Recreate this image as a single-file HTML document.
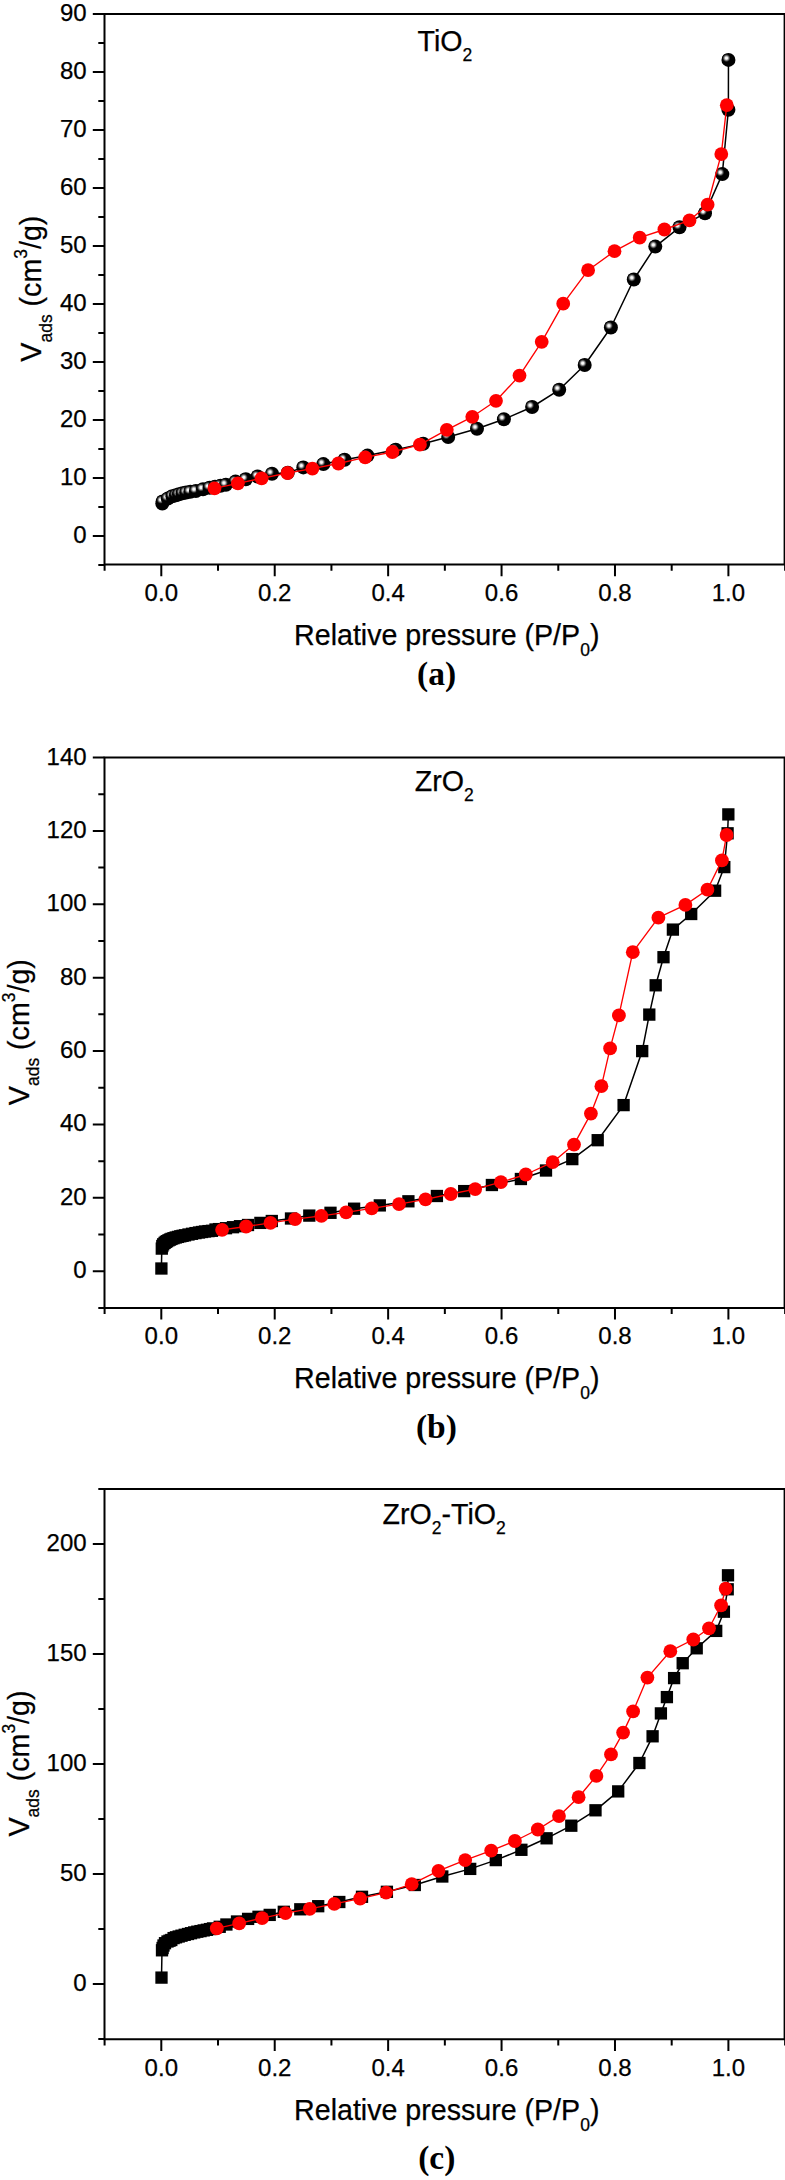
<!DOCTYPE html>
<html lang="en"><head><meta charset="utf-8"><title>N2 adsorption-desorption isotherms</title>
<style>html,body{margin:0;padding:0;background:#fff}svg{display:block}text{font-family:"Liberation Sans", Arial, sans-serif;fill:#000;stroke:#000;stroke-width:0.25px}.cap{font-family:"Liberation Serif", "Times New Roman", serif;font-weight:bold;stroke:none}</style></head><body>
<svg width="785" height="2180" viewBox="0 0 785 2180">
<defs><radialGradient id="hl" cx="0.5" cy="0.5" r="0.5"><stop offset="0" stop-color="#fff"/><stop offset="0.28" stop-color="#f0f0f0"/><stop offset="0.55" stop-color="#8a8a8a"/><stop offset="0.8" stop-color="#2a2a2a"/><stop offset="1" stop-color="#000"/></radialGradient><g id="ball"><circle r="7" fill="#000"/><circle cx="-2" cy="-1.8" r="4.1" fill="url(#hl)"/></g></defs>
<rect width="785" height="2180" fill="#fff"/>
<g id="chart-a">
<g stroke="#000" stroke-width="2" fill="none" stroke-linecap="butt">
<path d="M103.5 14 H785.6 M103.5 564.5 H785.6 M104.5 14 V564.5 M784.6 14 V564.5"/>
<path d="M92.8 536H104.5M92.8 478H104.5M92.8 420H104.5M92.8 362H104.5M92.8 304H104.5M92.8 246H104.5M92.8 188H104.5M92.8 130H104.5M92.8 72H104.5M92.8 14H104.5M98.3 565H104.5M98.3 507H104.5M98.3 449H104.5M98.3 391H104.5M98.3 333H104.5M98.3 275H104.5M98.3 217H104.5M98.3 159H104.5M98.3 101H104.5M98.3 43H104.5M104.59 564.5V570.7M161.3 564.5V576.2M218.01 564.5V570.7M274.72 564.5V576.2M331.43 564.5V570.7M388.14 564.5V576.2M444.85 564.5V570.7M501.56 564.5V576.2M558.27 564.5V570.7M614.98 564.5V576.2M671.69 564.5V570.7M728.4 564.5V576.2M785.11 564.5V570.7"/>
</g>
<g font-size="24">
<text x="86.6" y="543" text-anchor="end">0</text>
<text x="86.6" y="485" text-anchor="end">10</text>
<text x="86.6" y="427" text-anchor="end">20</text>
<text x="86.6" y="369" text-anchor="end">30</text>
<text x="86.6" y="311" text-anchor="end">40</text>
<text x="86.6" y="253" text-anchor="end">50</text>
<text x="86.6" y="195" text-anchor="end">60</text>
<text x="86.6" y="137" text-anchor="end">70</text>
<text x="86.6" y="79" text-anchor="end">80</text>
<text x="86.6" y="21" text-anchor="end">90</text>
<text x="161.3" y="600.8" text-anchor="middle">0.0</text>
<text x="274.72" y="600.8" text-anchor="middle">0.2</text>
<text x="388.14" y="600.8" text-anchor="middle">0.4</text>
<text x="501.56" y="600.8" text-anchor="middle">0.6</text>
<text x="614.98" y="600.8" text-anchor="middle">0.8</text>
<text x="728.4" y="600.8" text-anchor="middle">1.0</text>
</g>
<text x="446.75" y="645" font-size="28.6" text-anchor="middle">Relative pressure (P/P<tspan font-size="17.5" dy="11">0</tspan><tspan dy="-11">)</tspan></text>
<text transform="translate(41.3 288.65) rotate(-90)" font-size="28.6" text-anchor="middle">V<tspan font-size="17.5" dy="10.5">ads</tspan><tspan dy="-10.5"> (cm</tspan><tspan font-size="17.5" dy="-14">3</tspan><tspan dy="14">/g)</tspan></text>
<text x="417.6" y="51.2" font-size="28.6">TiO<tspan font-size="17.5" dy="10">2</tspan></text>
<text class="cap" x="436.65" y="685.2" font-size="33.5" text-anchor="middle">(a)</text>
<polyline fill="none" stroke="#000" stroke-width="1.5" stroke-linejoin="round" points="162.3,503.6 162.7,501.5 167.8,498.6 172.4,496.2 176,495.2 179,494.3 182.6,493.3 186.2,492.5 190.3,491.8 195.9,491 203,489.3 209.6,487.7 215,486.7 220.5,485.7 225.9,484.7 235.5,481.6 245.8,479.2 257.7,476.5 272,473.8 287.8,472.8 303.3,467.4 323.4,464.1 344.6,459.7 367.5,455.6 395.7,449.7 423.2,443.7 448.2,437 477,428.7 503.9,419.3 532.1,407 559.2,389.8 584.7,365 610.9,327.5 633.8,279.5 655.3,246.6 679.5,227.3 705,213.3 722.3,174.1 728.4,109.7 728.45,59.9"/>
<use href="#ball" x="162.3" y="503.6"/><use href="#ball" x="162.7" y="501.5"/><use href="#ball" x="167.8" y="498.6"/><use href="#ball" x="172.4" y="496.2"/><use href="#ball" x="176" y="495.2"/><use href="#ball" x="179" y="494.3"/><use href="#ball" x="182.6" y="493.3"/><use href="#ball" x="186.2" y="492.5"/><use href="#ball" x="190.3" y="491.8"/><use href="#ball" x="195.9" y="491"/><use href="#ball" x="203" y="489.3"/><use href="#ball" x="209.6" y="487.7"/><use href="#ball" x="215" y="486.7"/><use href="#ball" x="220.5" y="485.7"/><use href="#ball" x="225.9" y="484.7"/><use href="#ball" x="235.5" y="481.6"/><use href="#ball" x="245.8" y="479.2"/><use href="#ball" x="257.7" y="476.5"/><use href="#ball" x="272" y="473.8"/><use href="#ball" x="287.8" y="472.8"/><use href="#ball" x="303.3" y="467.4"/><use href="#ball" x="323.4" y="464.1"/><use href="#ball" x="344.6" y="459.7"/><use href="#ball" x="367.5" y="455.6"/><use href="#ball" x="395.7" y="449.7"/><use href="#ball" x="423.2" y="443.7"/><use href="#ball" x="448.2" y="437"/><use href="#ball" x="477" y="428.7"/><use href="#ball" x="503.9" y="419.3"/><use href="#ball" x="532.1" y="407"/><use href="#ball" x="559.2" y="389.8"/><use href="#ball" x="584.7" y="365"/><use href="#ball" x="610.9" y="327.5"/><use href="#ball" x="633.8" y="279.5"/><use href="#ball" x="655.3" y="246.6"/><use href="#ball" x="679.5" y="227.3"/><use href="#ball" x="705" y="213.3"/><use href="#ball" x="722.3" y="174.1"/><use href="#ball" x="728.4" y="109.7"/><use href="#ball" x="728.45" y="59.9"/>
<polyline fill="none" stroke="#f00" stroke-width="1.35" stroke-linejoin="round" points="214.5,488.4 237.9,483.3 261.6,478.3 287.5,473 312.4,468.6 338.4,463.5 365.2,457.3 392.4,452 419.9,444.7 446.8,429.8 472.3,416.8 496,400.8 519.5,375.6 541.7,341.8 563.2,303.7 588.1,270.2 614.5,251.2 639.7,237.7 664.4,229.5 689.5,220.4 707.6,204.7 721.3,154.1 726.8,105.2"/>
<g fill="#f00"><circle cx="214.5" cy="488.4" r="6.9"/><circle cx="237.9" cy="483.3" r="6.9"/><circle cx="261.6" cy="478.3" r="6.9"/><circle cx="287.5" cy="473" r="6.9"/><circle cx="312.4" cy="468.6" r="6.9"/><circle cx="338.4" cy="463.5" r="6.9"/><circle cx="365.2" cy="457.3" r="6.9"/><circle cx="392.4" cy="452" r="6.9"/><circle cx="419.9" cy="444.7" r="6.9"/><circle cx="446.8" cy="429.8" r="6.9"/><circle cx="472.3" cy="416.8" r="6.9"/><circle cx="496" cy="400.8" r="6.9"/><circle cx="519.5" cy="375.6" r="6.9"/><circle cx="541.7" cy="341.8" r="6.9"/><circle cx="563.2" cy="303.7" r="6.9"/><circle cx="588.1" cy="270.2" r="6.9"/><circle cx="614.5" cy="251.2" r="6.9"/><circle cx="639.7" cy="237.7" r="6.9"/><circle cx="664.4" cy="229.5" r="6.9"/><circle cx="689.5" cy="220.4" r="6.9"/><circle cx="707.6" cy="204.7" r="6.9"/><circle cx="721.3" cy="154.1" r="6.9"/><circle cx="726.8" cy="105.2" r="6.9"/></g>
</g>
<g id="chart-b">
<g stroke="#000" stroke-width="2" fill="none" stroke-linecap="butt">
<path d="M103.5 757.6 H785.6 M103.5 1307.9 H785.6 M104.5 757.6 V1307.9 M784.6 757.6 V1307.9"/>
<path d="M92.8 1271.2H104.5M92.8 1197.82H104.5M92.8 1124.44H104.5M92.8 1051.06H104.5M92.8 977.68H104.5M92.8 904.3H104.5M92.8 830.92H104.5M92.8 757.54H104.5M98.3 1307.89H104.5M98.3 1234.51H104.5M98.3 1161.13H104.5M98.3 1087.75H104.5M98.3 1014.37H104.5M98.3 940.99H104.5M98.3 867.61H104.5M98.3 794.23H104.5M104.59 1307.9V1314.1M161.3 1307.9V1319.6M218.01 1307.9V1314.1M274.72 1307.9V1319.6M331.43 1307.9V1314.1M388.14 1307.9V1319.6M444.85 1307.9V1314.1M501.56 1307.9V1319.6M558.27 1307.9V1314.1M614.98 1307.9V1319.6M671.69 1307.9V1314.1M728.4 1307.9V1319.6M785.11 1307.9V1314.1"/>
</g>
<g font-size="24">
<text x="86.6" y="1278.2" text-anchor="end">0</text>
<text x="86.6" y="1204.82" text-anchor="end">20</text>
<text x="86.6" y="1131.44" text-anchor="end">40</text>
<text x="86.6" y="1058.06" text-anchor="end">60</text>
<text x="86.6" y="984.68" text-anchor="end">80</text>
<text x="86.6" y="911.3" text-anchor="end">100</text>
<text x="86.6" y="837.92" text-anchor="end">120</text>
<text x="86.6" y="764.54" text-anchor="end">140</text>
<text x="161.3" y="1344.2" text-anchor="middle">0.0</text>
<text x="274.72" y="1344.2" text-anchor="middle">0.2</text>
<text x="388.14" y="1344.2" text-anchor="middle">0.4</text>
<text x="501.56" y="1344.2" text-anchor="middle">0.6</text>
<text x="614.98" y="1344.2" text-anchor="middle">0.8</text>
<text x="728.4" y="1344.2" text-anchor="middle">1.0</text>
</g>
<text x="446.75" y="1388.4" font-size="28.6" text-anchor="middle">Relative pressure (P/P<tspan font-size="17.5" dy="11">0</tspan><tspan dy="-11">)</tspan></text>
<text transform="translate(28.5 1032.15) rotate(-90)" font-size="28.6" text-anchor="middle">V<tspan font-size="17.5" dy="10.5">ads</tspan><tspan dy="-10.5"> (cm</tspan><tspan font-size="17.5" dy="-14">3</tspan><tspan dy="14">/g)</tspan></text>
<text x="414.8" y="791" font-size="28.6">ZrO<tspan font-size="17.5" dy="10">2</tspan></text>
<text class="cap" x="436.4" y="1438.1" font-size="33.5" text-anchor="middle">(b)</text>
<polyline fill="none" stroke="#000" stroke-width="1.5" stroke-linejoin="round" points="161.4,1268.5 161.8,1248.6 162.3,1246 163.2,1244.3 164.6,1242.9 165.8,1241.9 167,1241.2 168.5,1240.3 170,1239.6 171.5,1238.9 173.5,1238.2 175.7,1237.5 178,1236.9 180.3,1236.3 182.6,1235.8 185,1235.3 188.5,1234.5 192,1233.8 195.5,1233.1 199,1232.5 202,1232 205,1231.5 208.5,1231.1 212,1230.8 215.5,1229.5 219,1229.1 226,1228.2 233,1227.2 240,1226.2 248,1225 260.4,1222.9 271.8,1221 291,1218.5 309.3,1215.6 330.5,1212.8 354.1,1208.7 379.8,1205.4 408.4,1201.3 436.9,1196 464.2,1191.1 491.9,1185 520.9,1179 546,1170.5 572.3,1159.1 597.7,1140.2 623.6,1105.1 642.2,1051.1 649.3,1014.6 655.7,985.3 663.5,957.2 672.9,929.6 691.2,914 715.1,890.7 724.3,867.1 727.6,833.3 728.35,814.4"/>
<g fill="#000"><rect x="155.25" y="1262.35" width="12.3" height="12.3"/><rect x="155.65" y="1242.45" width="12.3" height="12.3"/><rect x="156.15" y="1239.85" width="12.3" height="12.3"/><rect x="157.05" y="1238.15" width="12.3" height="12.3"/><rect x="158.45" y="1236.75" width="12.3" height="12.3"/><rect x="159.65" y="1235.75" width="12.3" height="12.3"/><rect x="160.85" y="1235.05" width="12.3" height="12.3"/><rect x="162.35" y="1234.15" width="12.3" height="12.3"/><rect x="163.85" y="1233.45" width="12.3" height="12.3"/><rect x="165.35" y="1232.75" width="12.3" height="12.3"/><rect x="167.35" y="1232.05" width="12.3" height="12.3"/><rect x="169.55" y="1231.35" width="12.3" height="12.3"/><rect x="171.85" y="1230.75" width="12.3" height="12.3"/><rect x="174.15" y="1230.15" width="12.3" height="12.3"/><rect x="176.45" y="1229.65" width="12.3" height="12.3"/><rect x="178.85" y="1229.15" width="12.3" height="12.3"/><rect x="182.35" y="1228.35" width="12.3" height="12.3"/><rect x="185.85" y="1227.65" width="12.3" height="12.3"/><rect x="189.35" y="1226.95" width="12.3" height="12.3"/><rect x="192.85" y="1226.35" width="12.3" height="12.3"/><rect x="195.85" y="1225.85" width="12.3" height="12.3"/><rect x="198.85" y="1225.35" width="12.3" height="12.3"/><rect x="202.35" y="1224.95" width="12.3" height="12.3"/><rect x="205.85" y="1224.65" width="12.3" height="12.3"/><rect x="209.35" y="1223.35" width="12.3" height="12.3"/><rect x="212.85" y="1222.95" width="12.3" height="12.3"/><rect x="219.85" y="1222.05" width="12.3" height="12.3"/><rect x="226.85" y="1221.05" width="12.3" height="12.3"/><rect x="233.85" y="1220.05" width="12.3" height="12.3"/><rect x="241.85" y="1218.85" width="12.3" height="12.3"/><rect x="254.25" y="1216.75" width="12.3" height="12.3"/><rect x="265.65" y="1214.85" width="12.3" height="12.3"/><rect x="284.85" y="1212.35" width="12.3" height="12.3"/><rect x="303.15" y="1209.45" width="12.3" height="12.3"/><rect x="324.35" y="1206.65" width="12.3" height="12.3"/><rect x="347.95" y="1202.55" width="12.3" height="12.3"/><rect x="373.65" y="1199.25" width="12.3" height="12.3"/><rect x="402.25" y="1195.15" width="12.3" height="12.3"/><rect x="430.75" y="1189.85" width="12.3" height="12.3"/><rect x="458.05" y="1184.95" width="12.3" height="12.3"/><rect x="485.75" y="1178.85" width="12.3" height="12.3"/><rect x="514.75" y="1172.85" width="12.3" height="12.3"/><rect x="539.85" y="1164.35" width="12.3" height="12.3"/><rect x="566.15" y="1152.95" width="12.3" height="12.3"/><rect x="591.55" y="1134.05" width="12.3" height="12.3"/><rect x="617.45" y="1098.95" width="12.3" height="12.3"/><rect x="636.05" y="1044.95" width="12.3" height="12.3"/><rect x="643.15" y="1008.45" width="12.3" height="12.3"/><rect x="649.55" y="979.15" width="12.3" height="12.3"/><rect x="657.35" y="951.05" width="12.3" height="12.3"/><rect x="666.75" y="923.45" width="12.3" height="12.3"/><rect x="685.05" y="907.85" width="12.3" height="12.3"/><rect x="708.95" y="884.55" width="12.3" height="12.3"/><rect x="718.15" y="860.95" width="12.3" height="12.3"/><rect x="721.45" y="827.15" width="12.3" height="12.3"/><rect x="722.2" y="808.25" width="12.3" height="12.3"/></g>
<polyline fill="none" stroke="#f00" stroke-width="1.35" stroke-linejoin="round" points="222.1,1229.8 246.1,1226.5 270.5,1222.9 295.1,1219.2 321.4,1215.9 346.1,1212.4 371.7,1208.3 399,1204.2 425.5,1199.3 450.8,1194 475.2,1189.1 500.9,1182.2 525.8,1174.5 552.7,1162.2 574,1144.6 590.9,1113.6 601.4,1086.2 610.1,1048.4 618.9,1015.3 632.8,952.2 658.4,917.7 685.4,904.9 707.4,889.7 721.9,860.4 726.6,835"/>
<g fill="#f00"><circle cx="222.1" cy="1229.8" r="6.9"/><circle cx="246.1" cy="1226.5" r="6.9"/><circle cx="270.5" cy="1222.9" r="6.9"/><circle cx="295.1" cy="1219.2" r="6.9"/><circle cx="321.4" cy="1215.9" r="6.9"/><circle cx="346.1" cy="1212.4" r="6.9"/><circle cx="371.7" cy="1208.3" r="6.9"/><circle cx="399" cy="1204.2" r="6.9"/><circle cx="425.5" cy="1199.3" r="6.9"/><circle cx="450.8" cy="1194" r="6.9"/><circle cx="475.2" cy="1189.1" r="6.9"/><circle cx="500.9" cy="1182.2" r="6.9"/><circle cx="525.8" cy="1174.5" r="6.9"/><circle cx="552.7" cy="1162.2" r="6.9"/><circle cx="574" cy="1144.6" r="6.9"/><circle cx="590.9" cy="1113.6" r="6.9"/><circle cx="601.4" cy="1086.2" r="6.9"/><circle cx="610.1" cy="1048.4" r="6.9"/><circle cx="618.9" cy="1015.3" r="6.9"/><circle cx="632.8" cy="952.2" r="6.9"/><circle cx="658.4" cy="917.7" r="6.9"/><circle cx="685.4" cy="904.9" r="6.9"/><circle cx="707.4" cy="889.7" r="6.9"/><circle cx="721.9" cy="860.4" r="6.9"/><circle cx="726.6" cy="835" r="6.9"/></g>
</g>
<g id="chart-c">
<g stroke="#000" stroke-width="2" fill="none" stroke-linecap="butt">
<path d="M103.5 1489 H785.6 M103.5 2039.2 H785.6 M104.5 1489 V2039.2 M784.6 1489 V2039.2"/>
<path d="M92.8 1984.05H104.5M92.8 1874.05H104.5M92.8 1764.05H104.5M92.8 1654.05H104.5M92.8 1544.05H104.5M98.3 2039.05H104.5M98.3 1929.05H104.5M98.3 1819.05H104.5M98.3 1709.05H104.5M98.3 1599.05H104.5M98.3 1489.05H104.5M104.59 2039.2V2045.4M161.3 2039.2V2050.9M218.01 2039.2V2045.4M274.72 2039.2V2050.9M331.43 2039.2V2045.4M388.14 2039.2V2050.9M444.85 2039.2V2045.4M501.56 2039.2V2050.9M558.27 2039.2V2045.4M614.98 2039.2V2050.9M671.69 2039.2V2045.4M728.4 2039.2V2050.9M785.11 2039.2V2045.4"/>
</g>
<g font-size="24">
<text x="86.6" y="1991.05" text-anchor="end">0</text>
<text x="86.6" y="1881.05" text-anchor="end">50</text>
<text x="86.6" y="1771.05" text-anchor="end">100</text>
<text x="86.6" y="1661.05" text-anchor="end">150</text>
<text x="86.6" y="1551.05" text-anchor="end">200</text>
<text x="161.3" y="2075.5" text-anchor="middle">0.0</text>
<text x="274.72" y="2075.5" text-anchor="middle">0.2</text>
<text x="388.14" y="2075.5" text-anchor="middle">0.4</text>
<text x="501.56" y="2075.5" text-anchor="middle">0.6</text>
<text x="614.98" y="2075.5" text-anchor="middle">0.8</text>
<text x="728.4" y="2075.5" text-anchor="middle">1.0</text>
</g>
<text x="446.75" y="2119.7" font-size="28.6" text-anchor="middle">Relative pressure (P/P<tspan font-size="17.5" dy="11">0</tspan><tspan dy="-11">)</tspan></text>
<text transform="translate(28.5 1763.5) rotate(-90)" font-size="28.6" text-anchor="middle">V<tspan font-size="17.5" dy="10.5">ads</tspan><tspan dy="-10.5"> (cm</tspan><tspan font-size="17.5" dy="-14">3</tspan><tspan dy="14">/g)</tspan></text>
<text x="382.5" y="1524" font-size="28.6">ZrO<tspan font-size="17.5" dy="10">2</tspan><tspan dy="-10">-TiO</tspan><tspan font-size="17.5" dy="10">2</tspan></text>
<text class="cap" x="436.8" y="2169.2" font-size="33.5" text-anchor="middle">(c)</text>
<polyline fill="none" stroke="#000" stroke-width="1.5" stroke-linejoin="round" points="161.5,1977.6 162,1950.3 162.6,1948 163.5,1945.5 165,1943.2 167.5,1941.5 169.5,1940.7 171.3,1940 173.6,1938.1 176,1937.3 178.7,1936.5 181.5,1935.7 184.7,1934.8 188,1934 191,1933.2 194.2,1932.4 197.3,1931.7 200.5,1931.1 203.7,1930.4 206.9,1929.8 210,1929.1 213,1928.4 219.7,1926.8 226.4,1924.5 237,1921.5 248.1,1918.9 258.5,1916.8 269.7,1914.9 283.8,1911.8 300.3,1909.3 318.2,1906.2 339.3,1902 362,1896.8 386.9,1891.8 414.8,1885 442.3,1876.5 470.2,1868.9 495.8,1860.1 521.4,1849.8 546.6,1838.3 571.3,1825.7 595.5,1810.3 618.2,1791.4 639.4,1763 652.6,1736.3 660.9,1713.4 666.9,1697.1 674.1,1678.1 682.7,1663.2 696.7,1648.3 716.2,1630.9 723.9,1611.7 727.7,1589.3 728,1575.3"/>
<g fill="#000"><rect x="155.35" y="1971.45" width="12.3" height="12.3"/><rect x="155.85" y="1944.15" width="12.3" height="12.3"/><rect x="156.45" y="1941.85" width="12.3" height="12.3"/><rect x="157.35" y="1939.35" width="12.3" height="12.3"/><rect x="158.85" y="1937.05" width="12.3" height="12.3"/><rect x="161.35" y="1935.35" width="12.3" height="12.3"/><rect x="163.35" y="1934.55" width="12.3" height="12.3"/><rect x="165.15" y="1933.85" width="12.3" height="12.3"/><rect x="167.45" y="1931.95" width="12.3" height="12.3"/><rect x="169.85" y="1931.15" width="12.3" height="12.3"/><rect x="172.55" y="1930.35" width="12.3" height="12.3"/><rect x="175.35" y="1929.55" width="12.3" height="12.3"/><rect x="178.55" y="1928.65" width="12.3" height="12.3"/><rect x="181.85" y="1927.85" width="12.3" height="12.3"/><rect x="184.85" y="1927.05" width="12.3" height="12.3"/><rect x="188.05" y="1926.25" width="12.3" height="12.3"/><rect x="191.15" y="1925.55" width="12.3" height="12.3"/><rect x="194.35" y="1924.95" width="12.3" height="12.3"/><rect x="197.55" y="1924.25" width="12.3" height="12.3"/><rect x="200.75" y="1923.65" width="12.3" height="12.3"/><rect x="203.85" y="1922.95" width="12.3" height="12.3"/><rect x="206.85" y="1922.25" width="12.3" height="12.3"/><rect x="213.55" y="1920.65" width="12.3" height="12.3"/><rect x="220.25" y="1918.35" width="12.3" height="12.3"/><rect x="230.85" y="1915.35" width="12.3" height="12.3"/><rect x="241.95" y="1912.75" width="12.3" height="12.3"/><rect x="252.35" y="1910.65" width="12.3" height="12.3"/><rect x="263.55" y="1908.75" width="12.3" height="12.3"/><rect x="277.65" y="1905.65" width="12.3" height="12.3"/><rect x="294.15" y="1903.15" width="12.3" height="12.3"/><rect x="312.05" y="1900.05" width="12.3" height="12.3"/><rect x="333.15" y="1895.85" width="12.3" height="12.3"/><rect x="355.85" y="1890.65" width="12.3" height="12.3"/><rect x="380.75" y="1885.65" width="12.3" height="12.3"/><rect x="408.65" y="1878.85" width="12.3" height="12.3"/><rect x="436.15" y="1870.35" width="12.3" height="12.3"/><rect x="464.05" y="1862.75" width="12.3" height="12.3"/><rect x="489.65" y="1853.95" width="12.3" height="12.3"/><rect x="515.25" y="1843.65" width="12.3" height="12.3"/><rect x="540.45" y="1832.15" width="12.3" height="12.3"/><rect x="565.15" y="1819.55" width="12.3" height="12.3"/><rect x="589.35" y="1804.15" width="12.3" height="12.3"/><rect x="612.05" y="1785.25" width="12.3" height="12.3"/><rect x="633.25" y="1756.85" width="12.3" height="12.3"/><rect x="646.45" y="1730.15" width="12.3" height="12.3"/><rect x="654.75" y="1707.25" width="12.3" height="12.3"/><rect x="660.75" y="1690.95" width="12.3" height="12.3"/><rect x="667.95" y="1671.95" width="12.3" height="12.3"/><rect x="676.55" y="1657.05" width="12.3" height="12.3"/><rect x="690.55" y="1642.15" width="12.3" height="12.3"/><rect x="710.05" y="1624.75" width="12.3" height="12.3"/><rect x="717.75" y="1605.55" width="12.3" height="12.3"/><rect x="721.55" y="1583.15" width="12.3" height="12.3"/><rect x="721.85" y="1569.15" width="12.3" height="12.3"/></g>
<polyline fill="none" stroke="#f00" stroke-width="1.35" stroke-linejoin="round" points="216.8,1928.4 239.2,1923.3 262.1,1918.2 285.5,1913.1 309.7,1908.8 334.3,1903.9 360.1,1898.7 386.1,1892.6 411.7,1884.2 438.5,1870.8 465.2,1860.1 491.2,1850.6 514.9,1841 537.8,1829.5 559,1816.1 578.6,1797.2 596.4,1775.9 611,1754.4 623.1,1732.6 633.1,1711.4 647.4,1677.6 670.3,1651.2 693.3,1639.5 709,1628.3 721.1,1605.3 725.7,1588.7"/>
<g fill="#f00"><circle cx="216.8" cy="1928.4" r="6.9"/><circle cx="239.2" cy="1923.3" r="6.9"/><circle cx="262.1" cy="1918.2" r="6.9"/><circle cx="285.5" cy="1913.1" r="6.9"/><circle cx="309.7" cy="1908.8" r="6.9"/><circle cx="334.3" cy="1903.9" r="6.9"/><circle cx="360.1" cy="1898.7" r="6.9"/><circle cx="386.1" cy="1892.6" r="6.9"/><circle cx="411.7" cy="1884.2" r="6.9"/><circle cx="438.5" cy="1870.8" r="6.9"/><circle cx="465.2" cy="1860.1" r="6.9"/><circle cx="491.2" cy="1850.6" r="6.9"/><circle cx="514.9" cy="1841" r="6.9"/><circle cx="537.8" cy="1829.5" r="6.9"/><circle cx="559" cy="1816.1" r="6.9"/><circle cx="578.6" cy="1797.2" r="6.9"/><circle cx="596.4" cy="1775.9" r="6.9"/><circle cx="611" cy="1754.4" r="6.9"/><circle cx="623.1" cy="1732.6" r="6.9"/><circle cx="633.1" cy="1711.4" r="6.9"/><circle cx="647.4" cy="1677.6" r="6.9"/><circle cx="670.3" cy="1651.2" r="6.9"/><circle cx="693.3" cy="1639.5" r="6.9"/><circle cx="709" cy="1628.3" r="6.9"/><circle cx="721.1" cy="1605.3" r="6.9"/><circle cx="725.7" cy="1588.7" r="6.9"/></g>
</g>
</svg></body></html>
